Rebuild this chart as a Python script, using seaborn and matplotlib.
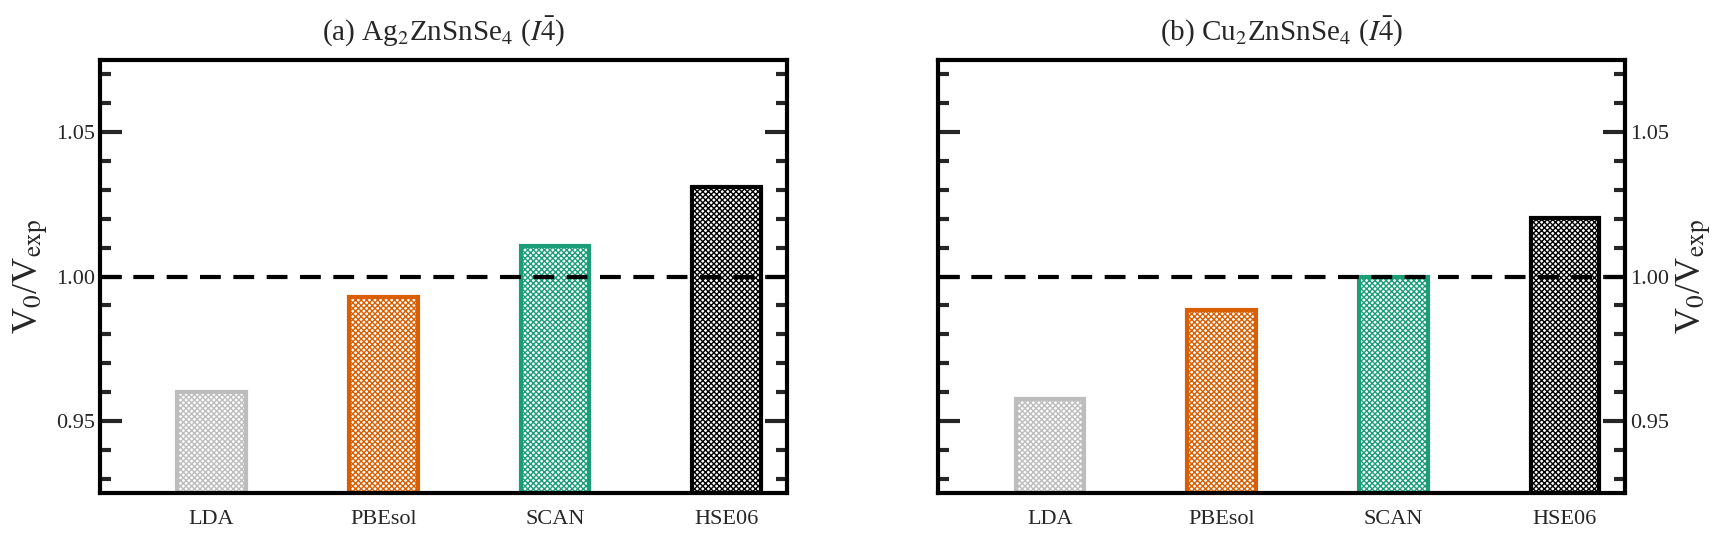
import matplotlib.pyplot as plt
import numpy as np
import pandas as pd
import seaborn as sns
from matplotlib.ticker import MultipleLocator

methods = ["LDA", "PBEsol", "SCAN", "HSE06"]
ag_values = [0.9602, 0.9930, 1.0106, 1.0310]
cu_values = [0.9577, 0.9884, 1.0000, 1.0204]
titles = [r"(a) Ag$_2$ZnSnSe$_4$ ($I\bar{4}$)", r"(b) Cu$_2$ZnSnSe$_4$ ($I\bar{4}$)"]
colors = ["#bdbdbd", "#d95f02", "#1b9e77", "#000000"]

sns.set_style("white")
plt.rcParams['font.family'] = ['Liberation Serif', 'DejaVu Serif']
plt.rcParams['mathtext.fontset'] = 'stix'
plt.rcParams['hatch.linewidth'] = 1.0

fig = plt.figure(figsize=(17.25, 5.51), dpi=100)
axes = [fig.add_axes([0.058, 0.105, 0.398, 0.786]),
        fig.add_axes([0.544, 0.105, 0.398, 0.786])]

for k, (ax, vals) in enumerate(zip(axes, [ag_values, cu_values])):
    df = pd.DataFrame({"method": methods, "ratio": vals})
    sns.barplot(data=df, x="method", y="ratio", hue="method", palette=colors,
                legend=False, width=0.4, ax=ax)
    for patch, c in zip(ax.patches, colors):
        patch.set_facecolor("white")
        patch.set_edgecolor(c)
        patch.set_hatch("xxxxxx")
        patch.set_linewidth(3)
        y0 = patch.get_y()
        patch.set_y(0.925)
        patch.set_height(patch.get_height() + y0 - 0.925)
    ax.axhline(1.0, color="black", linestyle=(0, (5, 3)), linewidth=3, zorder=5)
    ax.set_ylim(0.925, 1.075)
    ax.set_xlim(-0.65, 3.35)
    ax.yaxis.set_major_locator(MultipleLocator(0.05))
    ax.yaxis.set_minor_locator(MultipleLocator(0.01))
    ax.yaxis.set_major_formatter(plt.FuncFormatter(lambda v, p: f"{v:.2f}"))
    ax.tick_params(axis="y", which="major", direction="in", length=16, width=3,
                   left=True, right=True, labelsize=16)
    ax.tick_params(axis="y", which="minor", direction="in", length=8, width=3,
                   left=True, right=True)
    ax.tick_params(axis="x", length=0, labelsize=16, pad=12)
    for s in ax.spines.values():
        s.set_linewidth(3)
        s.set_color("black")
    ax.set_xlabel("")
    ax.set_ylabel(r"V$_0$/V$_{\rm exp}$", fontsize=26)
    ax.set_title(titles[k], fontsize=21, pad=14)
    if k == 1:
        ax.yaxis.set_label_position("right")
        ax.tick_params(axis="y", which="both", labelleft=False, labelright=True)

fig.savefig("out.png", dpi=100)
